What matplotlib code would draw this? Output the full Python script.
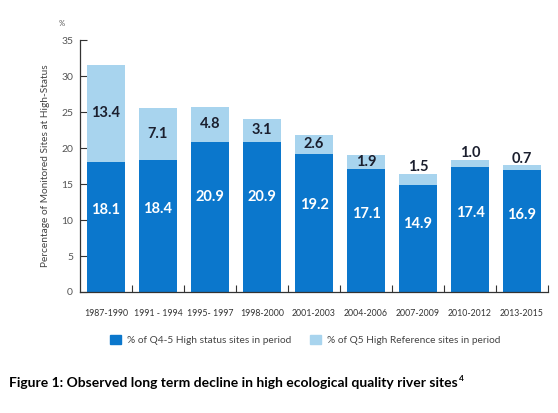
import numpy as np
import matplotlib
matplotlib.use("Agg")
import matplotlib.pyplot as plt
from matplotlib.patches import Patch

periods = ['1987-1990', '1991 - 1994', '1995- 1997', '1998-2000', '2001-2003',
           '2004-2006', '2007-2009', '2010-2012', '2013-2015']
high_status = [18.1, 18.4, 20.9, 20.9, 19.2, 17.1, 14.9, 17.4, 16.9]
high_reference = [13.4, 7.1, 4.8, 3.1, 2.6, 1.9, 1.5, 1.0, 0.7]

dark_blue = '#0b77cc'
light_blue = '#a8d4ee'

plt.rcParams['font.family'] = ['Lato', 'DejaVu Sans']

fig = plt.figure(figsize=(5.58, 4.13), dpi=100)
ax = fig.add_axes([0.1434, 0.293, 0.8386, 0.610])

x = np.arange(len(periods))
ax.bar(x, high_status, width=0.73, color=dark_blue, zorder=2)
ax.bar(x, high_reference, width=0.73, bottom=high_status, color=light_blue, zorder=2)

# value labels
for i, (a, b) in enumerate(zip(high_status, high_reference)):
    ax.text(i, a * 0.63, f'{a:.1f}', ha='center', va='center', color='white',
            fontsize=10.5, fontweight='bold', zorder=3)
    if b < 1.8:
        yb = a + b + 0.9
    else:
        yb = a + b / 2
    ax.text(i, yb, f'{b:.1f}', ha='center', va='center', color='#1b1f2e',
            fontsize=10.5, fontweight='bold', zorder=3)

ax.set_xlim(-0.5, 8.5)
ax.set_ylim(0, 35)
ax.set_yticks(range(0, 36, 5))
ax.set_xticks(x)
ax.set_xticklabels(periods, fontsize=6.3, color='#333333')
ax.set_xticks(np.arange(0.5, 9, 1), minor=True)
ax.tick_params(axis='x', which='major', length=0, pad=12)
ax.tick_params(axis='x', which='minor', direction='in', length=5, width=0.8, color='#333333')
ax.tick_params(axis='y', direction='in', length=5, width=0.8, color='#333333',
               labelsize=7.5, labelcolor='#555555', pad=5)

for s in ['top', 'right']:
    ax.spines[s].set_visible(False)
for s in ['left', 'bottom']:
    ax.spines[s].set_color('#333333')
    ax.spines[s].set_linewidth(0.9)

ax.set_ylabel('Percentage of Monitored Sites at High-Status', fontsize=7.3,
              color='#444444', labelpad=8)
ax.text(-0.04, 1.05, '%', transform=ax.transAxes, fontsize=5.5, color='#555555',
        ha='center', va='bottom')

handles = [Patch(color=dark_blue, label='% of Q4-5 High status sites in period'),
           Patch(color=light_blue, label='% of Q5 High Reference sites in period')]
fig.legend(handles=handles, loc='center', bbox_to_anchor=(0.547, 0.177), ncol=2,
           frameon=False, fontsize=7.3, handlelength=1.1, handleheight=1.1,
           handletextpad=0.6, columnspacing=1.8, labelcolor='#444444')

cap = fig.text(0.016, 0.073, 'Figure 1: Observed long term decline in high ecological quality river sites',
               fontsize=10, fontweight='bold', color='black', ha='left', va='center')
fig.canvas.draw()
bb = cap.get_window_extent().transformed(fig.transFigure.inverted())
fig.text(bb.x1 + 0.002, 0.083, '4', fontsize=6, fontweight='bold',
         color='black', ha='left', va='center')

fig.savefig('out.png', dpi=100)
